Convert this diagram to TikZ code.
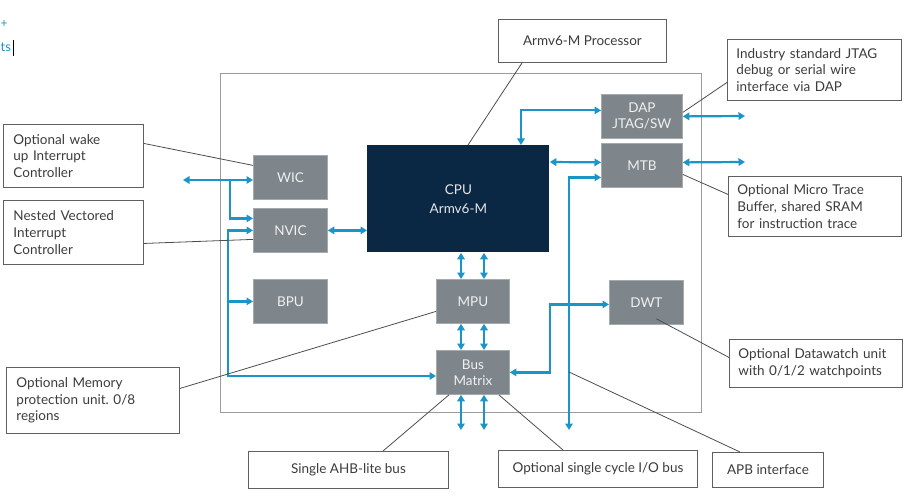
\documentclass[tikz,border=0pt]{standalone}
\usepackage{fontspec}
\setmainfont{Lato}
\usetikzlibrary{arrows.meta, calc}
\frenchspacing

\definecolor{busblue}{HTML}{1B95C7}
\definecolor{unitgray}{HTML}{7E868B}
\definecolor{unitedge}{HTML}{A5AAAD}
\definecolor{cpunavy}{HTML}{0A2844}
\definecolor{framegray}{HTML}{9C9C9C}
\definecolor{noteedge}{HTML}{5C6165}
\definecolor{notetext}{HTML}{3C3C3C}

\tikzset{
    unit/.style={draw=unitedge, line width=0.8pt, fill=unitgray, text=white!94!black,
        anchor=north west, inner sep=0pt, align=center,
        font=\fontsize{13.5}{16}\selectfont},
    cpubox/.style={unit, draw=none, fill=cpunavy, text=white!90!black},
    note/.style={draw=noteedge, line width=0.9pt, fill=white, text=notetext,
        anchor=north west, inner sep=0pt, align=left,
        font=\fontsize{13.5}{16.7}\selectfont},
    procframe/.style={draw=framegray, line width=1.2pt, anchor=north west, inner sep=0pt},
    bus/.style={draw=busblue, line width=2.2pt,
        arrows={-}, >={Triangle[length=6.5pt, width=7.5pt]}},
    callout/.style={draw=noteedge!80!black, line width=0.8pt}
}

\begin{document}
\begin{tikzpicture}[x=1pt, y=-1pt]
    \useasboundingbox (0,0) rectangle (917,497);

    \node[procframe, minimum width=481, minimum height=339] (proc) at (220,73) {};

    \node[cpubox, minimum width=182, minimum height=107] (cpu) at (367,145) {CPU\\[3pt]Armv6-M};
    \node[unit, minimum width=74, minimum height=44] (wic) at (253,155) {WIC};
    \node[unit, minimum width=74, minimum height=44] (nvic) at (253,208) {NVIC};
    \node[unit, minimum width=74, minimum height=44] (bpu) at (253,279) {BPU};
    \node[unit, minimum width=73, minimum height=44] (mpu) at (436,279) {MPU};
    \node[unit, minimum width=73, minimum height=44] (bus) at (436,350) {Bus\\Matrix};
    \node[unit, minimum width=74, minimum height=44] (dwt) at (609,280) {DWT};
    \node[unit, minimum width=81, minimum height=44] (dap) at (601,94) {DAP\\JTAG/SW};
    \node[unit, minimum width=81, minimum height=44] (mtb) at (601,143) {MTB};

    \node[note, align=center, minimum width=168, minimum height=43] (armnote) at (498,19) {Armv6-M Processor};
    \node[note, text width=120, inner xsep=10pt, minimum height=63] (wicnote) at (3,124)
        {Optional wake\\up Interrupt\\Controller};
    \node[note, text width=120, inner xsep=10pt, minimum height=64] (nvicnote) at (3,200)
        {Nested Vectored\\Interrupt\\Controller};
    \node[note, text width=153, inner xsep=10pt, minimum height=66] (mpunote) at (6,367)
        {Optional Memory\\protection unit. 0/8\\regions};
    \node[note, text width=156, inner xsep=9pt, minimum height=61] (jtagnote) at (727,39)
        {Industry standard JTAG\\debug or serial wire\\interface via DAP};
    \node[note, text width=155, inner xsep=9pt, minimum height=60] (mtbnote) at (728,176)
        {Optional Micro Trace\\Buffer, shared SRAM\\for instruction trace};
    \node[note, text width=155, inner xsep=9pt, minimum height=48] (dwtnote) at (729,339)
        {Optional Datawatch unit\\with 0/1/2 watchpoints};
    \node[note, align=center, minimum width=111, minimum height=35] (apbnote) at (712,452) {APB interface};
    \node[note, align=center, minimum width=200, minimum height=37] (ahbnote) at (248,451) {Single AHB-lite bus};
    \node[note, align=center, minimum width=199, minimum height=37] (ionote) at (498,450) {Optional single cycle I/O bus};

    \node[anchor=west, inner sep=0pt, text=busblue, font=\fontsize{12}{12}\selectfont] (plusfrag) at (0.5,24) {+};
    \node[anchor=west, inner sep=0pt, text=busblue, font=\fontsize{13}{13}\selectfont] (tsfrag) at (0.5,47) {ts};
    \draw[line width=1pt] ([xshift=2pt, yshift=2pt]tsfrag.north east) -- ([xshift=2pt, yshift=-4pt]tsfrag.south east);

    \coordinate (wicext) at (183,180);
    \coordinate (wicsplit) at (230,180);
    \coordinate (irqcorner) at (228,376);
    \coordinate (dapknee) at (521,110);
    \coordinate (dapext) at (745,116);
    \coordinate (mtbext) at (745,162);
    \coordinate (apbend) at (569,430);
    \coordinate (apbtap) at (569,372);
    \coordinate (ahbout) at (461,430);
    \coordinate (ioout) at (484,430);

    \draw[bus, <->] (wicext) -- (wic.west |- wicext);
    \draw[bus, ->] (wicsplit) |- ([yshift=12pt]nvic.west);
    \draw[bus, <->] (nvic.west) -| (irqcorner) -- (bus.west |- irqcorner);
    \draw[bus, ->] (irqcorner |- bpu.west) -- (bpu.west);
    \draw[bus, <->] (nvic.east) -- (cpu.west |- nvic.east);
    \draw[bus, <->] (cpu.south -| ahbout) -- (mpu.north -| ahbout);
    \draw[bus, <->] (cpu.south -| ioout) -- (mpu.north -| ioout);
    \draw[bus, <->] (mpu.south -| ahbout) -- (bus.north -| ahbout);
    \draw[bus, <->] (mpu.south -| ioout) -- (bus.north -| ioout);
    \draw[bus, <->] (bus.south -| ahbout) -- (ahbout);
    \draw[bus, <->] (bus.south -| ioout) -- (ioout);
    \draw[bus, <->] ([yshift=6pt]dap.west) -| (cpu.north -| dapknee);
    \draw[bus, <->] (dap.east) -- (dapext);
    \draw[bus, <->] ([yshift=3pt]mtb.east) -- (mtbext);
    \draw[bus, <->] ([yshift=3pt]mtb.west) -- (cpu.east |- mtbext);
    \draw[bus, <->] ([yshift=-12pt]mtb.west) -| (apbend);
    \draw[bus, <->] (bus.east) -| ([xshift=-59pt, yshift=-2pt]dwt.west) -- ([yshift=-2pt]dwt.west);

    \draw[callout] ([xshift=24pt]armnote.south west) -- ([xshift=101pt]cpu.north west);
    \draw[callout] ([yshift=12.5pt]wicnote.east) -- ([yshift=12pt]wic.west);
    \draw[callout] ([yshift=-11pt]nvicnote.east) -- ([yshift=-9pt]nvic.west);
    \draw[callout] ([yshift=12pt]mpunote.east) -- ([yshift=-10pt]mpu.west);
    \draw[callout] ([yshift=-12.5pt]jtagnote.west) -- ([yshift=4pt]dap.east);
    \draw[callout] ([yshift=12pt]mtbnote.west) -- ([yshift=-9pt]mtb.east);
    \draw[callout] ([yshift=6pt]dwtnote.west) -- ([xshift=10pt, yshift=6pt]dwt.south);
    \draw[callout] ([xshift=28pt]apbnote.north west) -- (apbtap);
    \draw[callout] ([xshift=135pt]ahbnote.north west) -- ([xshift=13pt]bus.south west);
    \draw[callout] ([xshift=65pt]ionote.north west) -- ([xshift=-11pt]bus.south east);
\end{tikzpicture}
\end{document}
